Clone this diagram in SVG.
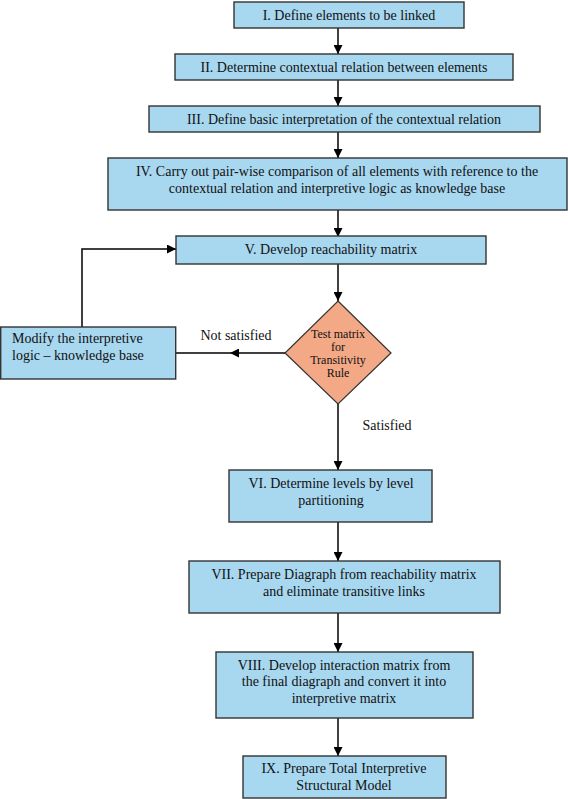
<svg xmlns="http://www.w3.org/2000/svg" width="568" height="799" viewBox="0 0 568 799">
<defs>
<marker id="ah" viewBox="0 0 10 10" refX="10" refY="5" markerWidth="9" markerHeight="9" markerUnits="userSpaceOnUse" orient="auto">
<path d="M0,0 L10,5 L0,10 z" fill="#000"/>
</marker>
<style>
.box{fill:#a8d7f0;stroke:#333;stroke-width:1.4}
.dia{fill:#f3a886;stroke:#333;stroke-width:1.2}
text{font-family:"Liberation Serif","Times New Roman",serif;font-size:14px;fill:#111}
.c{text-anchor:middle}
.s{font-size:12px}
.ln{fill:none;stroke:#000;stroke-width:1.5}
</style>
</defs>
<rect width="568" height="799" fill="#fff"/>
<g id="connectors">
<path class="ln" d="M338,28 V54" marker-end="url(#ah)"/>
<path class="ln" d="M338,80 V106" marker-end="url(#ah)"/>
<path class="ln" d="M338,132 V158" marker-end="url(#ah)"/>
<path class="ln" d="M338,210 V237" marker-end="url(#ah)"/>
<path class="ln" d="M338,264 V301" marker-end="url(#ah)"/>
<path class="ln" d="M285,353 H230 H176" marker-mid="url(#ah)"/>
<path class="ln" d="M82,327 V249 H176" marker-end="url(#ah)"/>
<path class="ln" d="M338,404 V470" marker-end="url(#ah)"/>
<path class="ln" d="M338,522 V561" marker-end="url(#ah)"/>
<path class="ln" d="M338,613 V652" marker-end="url(#ah)"/>
<path class="ln" d="M338,718 V756" marker-end="url(#ah)"/>
<text x="236" y="340" class="c">Not satisfied</text>
<text x="387" y="430" class="c">Satisfied</text>
</g>
<g id="n1"><rect class="box" x="234" y="2" width="230" height="26"/><text x="349" y="20" class="c">I. Define elements to be linked</text></g>
<g id="n2"><rect class="box" x="175" y="54" width="338" height="26"/><text x="344" y="72" class="c">II. Determine contextual relation between elements</text></g>
<g id="n3"><rect class="box" x="149" y="106" width="391" height="26"/><text x="344" y="124" class="c">III. Define basic interpretation of the contextual relation</text></g>
<g id="n4"><rect class="box" x="108" y="158" width="459" height="52"/><text x="337" y="176" class="c">IV. Carry out pair-wise comparison of all elements with reference to the</text><text x="337" y="193" class="c">contextual relation and interpretive logic as knowledge base</text></g>
<g id="n5"><rect class="box" x="176" y="236" width="310" height="28"/><text x="331" y="254" class="c">V. Develop reachability matrix</text></g>
<g id="d1"><polygon class="dia" points="338,301 391,353 338,404 285,353"/><text x="338" y="338" class="c s">Test matrix</text><text x="338" y="351" class="c s">for</text><text x="338" y="364" class="c s">Transitivity</text><text x="338" y="377" class="c s">Rule</text></g>
<g id="m1"><rect class="box" x="0.7" y="327" width="175" height="52"/><text x="12" y="343">Modify the interpretive</text><text x="12" y="360">logic – knowledge base</text></g>
<g id="n6"><rect class="box" x="229" y="470" width="203" height="52"/><text x="331" y="488" class="c">VI. Determine levels by level</text><text x="331" y="505" class="c">partitioning</text></g>
<g id="n7"><rect class="box" x="189" y="561" width="311" height="52"/><text x="344" y="579" class="c">VII. Prepare Diagraph from reachability matrix</text><text x="344" y="596" class="c">and eliminate transitive links</text></g>
<g id="n8"><rect class="box" x="216" y="652" width="257" height="66"/><text x="344" y="670" class="c">VIII. Develop interaction matrix from</text><text x="344" y="686" class="c">the final diagraph and convert it into</text><text x="344" y="703" class="c">interpretive matrix</text></g>
<g id="n9"><rect class="box" x="243" y="756" width="203" height="42"/><text x="344" y="773" class="c">IX. Prepare Total Interpretive</text><text x="344" y="790" class="c">Structural Model</text></g>
</svg>
